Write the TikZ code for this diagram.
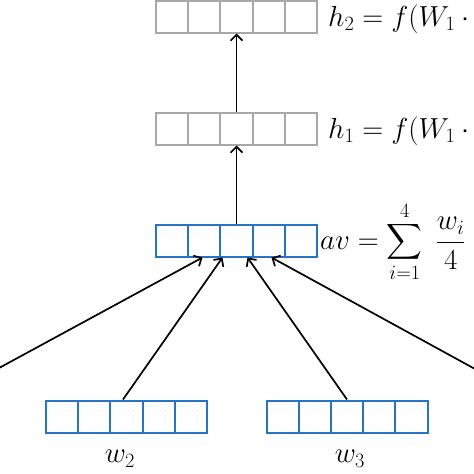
\RequirePackage{fix-cm}
\documentclass[tikz,border=0pt]{standalone}
\usepackage{amsmath}
\usepackage{exscale}
\usetikzlibrary{arrows.meta}
\definecolor{cellblue}{RGB}{40,115,200}
\definecolor{cellgray}{RGB}{168,168,168}
\tikzset{
  vecbox/.style={draw=#1, line width=2pt, rectangle, minimum width=161pt, minimum height=32pt, inner sep=0pt,
    path picture={
      \foreach \k in {1,2,3,4}{
        \draw[#1, line width=2pt] ([xshift=\k*32.2pt]path picture bounding box.north west) -- ([xshift=\k*32.2pt]path picture bounding box.south west);
      }
    }},
  conn/.style={draw=black, line width=1.7pt, -{Straight Barb[length=6pt,width=12pt,line width=1.7pt]}},
  eqfont/.style={font=\fontsize{29}{34}\selectfont, inner sep=0pt},
  eq/.style={eqfont, anchor=west},
}
\begin{document}
\begin{tikzpicture}[x=1pt,y=-1pt]
\useasboundingbox (0,0) rectangle (474,474);
\clip (0,0) rectangle (474,474);
\node[vecbox=cellgray] (h2) at (236.5,16.5) {};
\node[vecbox=cellgray] (h1) at (236.5,128.5) {};
\node[vecbox=cellblue] (av) at (236.5,240.5) {};
\node[vecbox=cellblue] (w2) at (126.5,416.5) {};
\node[vecbox=cellblue] (w3) at (347,416.5) {};
\coordinate (w1) at (-12,374);
\coordinate (w4) at (486,375);
\draw[conn] (h1.north) -- (h2.south);
\draw[conn] (av.north) -- (h1.south);
\draw[conn] (w1) -- ([xshift=-34pt]av.south);
\draw[conn] ([xshift=-3.5pt]w2.north) -- ([xshift=-14pt]av.south);
\draw[conn] (w3.north) -- ([xshift=11pt]av.south);
\draw[conn] (w4) -- ([xshift=35pt]av.south);
\node[eq] (e2) at (328,19) {$h_2 = f(W_1 \cdot {}$};
\node[eq] (e1) at (328,131) {$h_1 = f(W_1 \cdot {}$};
\node[eq] (ea) at (320,242) {$\displaystyle av = \sum_{i=1}^{4}\;\frac{w_i}{4}$};
\node[eqfont, anchor=north] (l2) at (120,450) {$w_2$};
\node[eqfont, anchor=north] (l3) at (350,450) {$w_3$};
\end{tikzpicture}
\end{document}
